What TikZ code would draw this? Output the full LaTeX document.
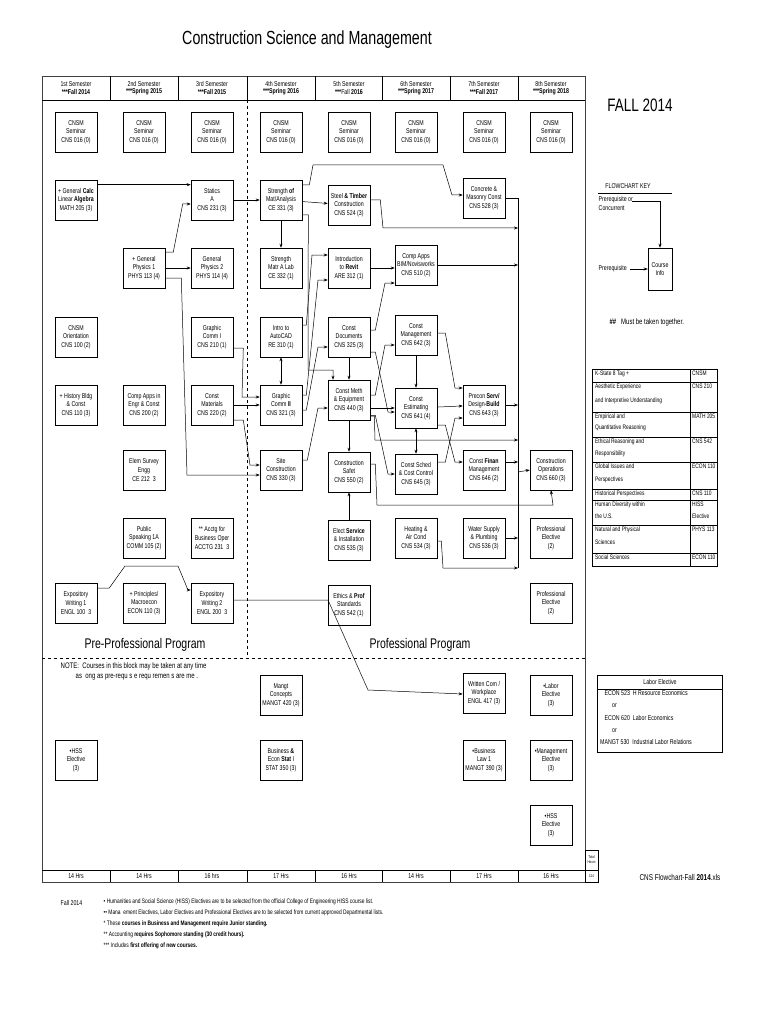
\documentclass[tikz,border=0pt]{standalone}
\usepackage{fontspec}
\setmainfont{Liberation Sans}[FakeStretch=0.75]
\usetikzlibrary{arrows.meta}
\begin{document}
\begin{tikzpicture}[x=1pt,y=-1pt,
 box/.style={draw,line width=0.6pt,minimum width=42pt,minimum height=40pt,align=center,font=\fontsize{7}{8.6}\selectfont,inner sep=0.3pt},
 hd/.style={align=center,font=\fontsize{7}{7.5}\selectfont},
 ar/.style={-{Stealth[length=4pt,width=3pt]},line width=0.5pt},
 da/.style={{Stealth[length=4pt,width=3pt]}-{Stealth[length=4pt,width=3pt]},line width=0.5pt},
 ln/.style={line width=0.5pt},
 sm/.style={font=\fontsize{7}{8.4}\selectfont,anchor=west,inner sep=0.5pt}]
\useasboundingbox (0,0) rectangle (768,1024);
\node[font=\fontsize{19}{22}\selectfont] (title) at (307,40) {Construction Science and Management};
% frame
\draw[line width=0.9pt,black!75] (42,76) rectangle (585,882);
\draw[ln] (42,100) -- (585,100);
\foreach \x in {110,178,247,315,382,450,518} {\draw[ln] (\x,76) -- (\x,100); \draw[ln] (\x,870) -- (\x,882);}
\draw[ln] (42,870) -- (585,870);
\draw[ln] (585,850) rectangle (598,882); \draw[ln] (585,870) -- (598,870);
\node[font=\fontsize{4}{5}\selectfont,align=center,inner sep=0] (tot) at (591.5,860) {Total\\Hours};
\node[font=\fontsize{4}{4.5}\selectfont] (totv) at (591.5,876) {124};
\foreach \x/\t in {76/1st Semester\\\textbf{***Fall 2014},144/2nd Semester\\\textbf{***Spring 2015},212/3rd Semester\\\textbf{***Fall 2015},281/4th Semester\\\textbf{***Spring 2016},349/5th Semester\\\textbf{***}Fall \textbf{2016},416/6th Semester\\\textbf{***Spring 2017},484/7th Semester\\\textbf{***Fall 2017},551/8th Semester\\\textbf{***Spring 2018}} \node[hd] at (\x,88) {\t};
\foreach \x/\t in {76/14 Hrs,144/14 Hrs,212/16 hrs,281/17 Hrs,349/16 Hrs,416/14 Hrs,484/17 Hrs,551/16 Hrs} \node[hd] at (\x,876) {\t};
% dashed dividers
\draw[dashed,ln] (247,100) -- (247,658);
\draw[dashed,ln] (42,658) -- (585,658);
\node[font=\fontsize{14}{16}\selectfont] (pre) at (145,645) {Pre-Professional Program};
\node[font=\fontsize{14}{16}\selectfont] (pro) at (420,645) {Professional Program};
\node[sm,font=\fontsize{8}{9}\selectfont] (note1) at (60,666) {NOTE:\ \ Courses in this block may be taken at any time};
\node[sm,font=\fontsize{8}{9}\selectfont] (note2) at (75,677) {as \ ong as pre-requ s e requ remen s are me .};
% seminars
\foreach \x [count=\i] in {76,144,212,281,349,416,484,551} \node[box] (s\i) at (\x,132) {CNSM\\Seminar\\CNS 016 (0)};
\node[box] (calc) at (76,200) {+ General \textbf{Calc}\\Linear \textbf{Algebra}\\MATH 205 (3)};
\node[box] (statics) at (212,200) {Statics\\A\\CNS 231 (3)};
\node[box] (strength) at (281,200) {Strength \textbf{of}\\Mat/Analysis\\CE 331 (3)};
\node[box] (steel) at (349,205) {Steel \textbf{\& Timber}\\Construction\\CNS 524 (3)};
\node[box] (concrete) at (484,198) {Concrete \&\\Masonry Const\\CNS 528 (3)};
\node[box] (phys1) at (144,268) {+ General\\Physics 1\\PHYS 113 (4)};
\node[box] (phys2) at (212,268) {General\\Physics 2\\PHYS 114 (4)};
\node[box] (lab) at (281,268) {Strength\\Matr A Lab\\CE 332 (1)};
\node[box] (revit) at (349,268) {Introduction\\to \textbf{Revit}\\ARE 312 (1)};
\node[box] (bim) at (416,265) {Comp Apps\\BIM/Novisworks\\CNS 510 (2)};
\node[box] (orient) at (76,337) {CNSM\\Orientation\\CNS 100 (2)};
\node[box] (gc1) at (212,337) {Graphic\\Comm I\\CNS 210 (1)};
\node[box] (autocad) at (281,337) {Intro to\\AutoCAD\\RE 310 (1)};
\node[box] (docs) at (349,337) {Const\\Documents\\CNS 325 (3)};
\node[box] (mgmt) at (416,335) {Const\\Management\\CNS 642 (3)};
\node[box] (hist) at (76,405) {+ History Bldg\\\& Const\\CNS 110 (3)};
\node[box] (capps) at (144,405) {Comp Apps in\\Engr \& Const\\CNS 200 (2)};
\node[box] (mat) at (212,405) {Const\\Materials\\CNS 220 (2)};
\node[box] (gc2) at (281,405) {Graphic\\Comm \textbf{II}\\CNS 321 (3)};
\node[box] (meth) at (349,400) {Const Meth\\\& Equipment\\CNS 440 (3)};
\node[box] (est) at (416,408) {Const\\Estimating\\CNS 641 (4)};
\node[box] (precon) at (484,405) {Precon \textbf{Serv/}\\Design-\textbf{Build}\\CNS 643 (3)};
\node[box] (survey) at (144,470) {Elem Survey\\Engg\\CE 212\ \ 3};
\node[box] (site) at (281,470) {Site\\Construction\\CNS 330 (3)};
\node[box] (safety) at (349,472) {Construction\\Safet\\CNS 550 (2)};
\node[box] (sched) at (416,474) {Const Sched\\\& Cost Control\\CNS 645 (3)};
\node[box] (fin) at (484,470) {Const \textbf{Finan}\\Management\\CNS 646 (2)};
\node[box] (ops) at (551,470) {Construction\\Operations\\CNS 660 (3)};
\node[box] (speak) at (144,538) {Public\\Speaking 1A\\COMM 105 (2)};
\node[box] (acctg) at (212,538) {** Acctg for\\Business Oper\\ACCTG 231\ \ 3};
\node[box] (elect) at (349,540) {Elect \textbf{Service}\\\& Installation\\CNS 535 (3)};
\node[box] (heat) at (416,538) {Heating \&\\Air Cond\\CNS 534 (3)};
\node[box] (water) at (484,538) {Water Supply\\\& Plumbing\\CNS 536 (3)};
\node[box] (pe1) at (551,538) {Professional\\Elective\\(2)};
\node[box] (ew1) at (76,603) {Expository\\Writing 1\\ENGL 100\ \ 3};
\node[box] (macro) at (144,603) {+ Principles/\\Macroecon\\ECON 110 (3)};
\node[box] (ew2) at (212,603) {Expository\\Writing 2\\ENGL 200\ \ 3};
\node[box] (ethics) at (349,605) {Ethics \& \textbf{Prof}\\Standards\\CNS 542 (1)};
\node[box] (pe2) at (551,603) {Professional\\Elective\\(2)};
\node[box] (mangt) at (281,695) {Mangt\\Concepts\\MANGT 420 (3)};
\node[box] (written) at (484,693) {Written Com /\\Workplace\\ENGL 417 (3)};
\node[box] (labor) at (551,695) {•Labor\\Elective\\(3)};
\node[box] (hss1) at (76,760) {•HSS\\Elective\\(3)};
\node[box] (stat) at (281,760) {Business \textbf{\&}\\Econ \textbf{Stat} I\\STAT 350 (3)};
\node[box] (law) at (484,760) {•Business\\Law 1\\MANGT 390 (3)};
\node[box] (melec) at (551,760) {•Management\\Elective\\(3)};
\node[box] (hss2) at (551,825) {•HSS\\Elective\\(3)};
% connectors
\draw[ar] ([yshift=-5]calc.north east) -- ([yshift=-5]statics.north west);
\draw[ar] ([yshift=16]phys1.east) -- ++(8,0) -- ([xshift=-8,yshift=-4]statics.west) -- ([yshift=-4]statics.west);
\draw[ar] (phys1) -- (phys2);
\draw[ar] ([yshift=-10]phys1.east) -- ++(16,0) -- (187,475) -- ([yshift=-5]site.west);
\draw[ar] (statics) -- (strength);
\draw[ar] (strength) -- (lab);
\draw[ar] ([yshift=15]strength.east) -- ++(7,0) -- (313,165) -- (443,165) -- (452,195) -- ([yshift=3]concrete.west);
\draw[ar] (strength) -- (steel);
\draw[ar] ([yshift=-15]strength.east) -- ++(6,0) -- (308,370) -- (333,370) -- ([xshift=-16]meth.north);
\draw[da] (autocad) -- (gc2);
\draw[ar] ([yshift=12]autocad.east) -- ++(4,0) -- (312,255) -- ([yshift=13]revit.west);
\draw[ar] ([yshift=10]gc2.east) -- ++(4,0) -- (318,280) -- ([yshift=-12]revit.west);
\draw[ar] ([yshift=-5]gc2.east) -- ++(4,0) -- (318,347) -- ([yshift=-10]docs.west);
\draw[ar] ([yshift=10]site.east) -- ++(5,0) -- (318,408) -- ([yshift=-8]meth.west);
\draw[ar] ([yshift=-11]gc1.east) -- ++(10,0) -- (242,397) -- ([yshift=8]gc2.west);
\draw[ar] (mat) -- (gc2);
\draw[ar] ([yshift=-15]mat.east) -- ++(10,0) -- (250,465) -- ([yshift=5]site.west);
\draw[ar] ([yshift=7]docs.east) -- ++(5,0) -- (385,283) -- ([yshift=-18]bim.west);
\draw[ar] (revit) -- ([yshift=-3]bim.west);
\draw[ar] (docs) -- (meth);
\draw[ar] ([yshift=-15]docs.east) -- ++(5,0) -- (388,412) -- ([yshift=-4]est.west);
\draw[ar] ([yshift=5]meth.east) -- ++(5,0) -- (385,345) -- ([yshift=-10]mgmt.west);
\draw[ar] ([yshift=-8]meth.east) -- (est.west);
\draw[ar] (mgmt) -- (est);
\draw[ar] ([yshift=2]mgmt.east) -- ++(8,0) -- (455,388) -- ([yshift=17]precon.west);
\draw[ar] (est) -- (precon);
\draw[da] (est) -- (sched);
\draw[ar] ([yshift=-17]est.east) -- ++(8,0) -- (455,462) -- ([yshift=8]fin.west);
\draw[ar] ([yshift=12]sched.east) -- ++(8,0) -- (455,418) -- ([yshift=-13]precon.west);
\draw[ar] (meth) -- (safety);
\draw[ar] ([yshift=-16]meth.east) -- ++(4,0) -- (375,440) -- (518,440);
\draw[ar] ([yshift=5]meth.south east) -- ++(5,0) -- (388,474) -- (sched.west);
\draw[ar] ([yshift=8]safety.east) -- ++(5,0) -- (377,505) -- (553,505) -- (ops.south);
\draw[ar] (elect) -- (safety);
\draw[ar] ([yshift=-3]heat.east) -- ++(4,0) -- (443,568) -- (518,568);
\draw[ar] (water) -- (518,538);
\draw[ar] ([yshift=8]fin.east) -- (518,462);
\draw[ar] (precon) -- (518,405);
\draw[ar] (bim) -- (518,265);
\draw[ar] ([yshift=5]steel.east) -- ++(10,0) -- (383,228) -- (518,228);
\draw[ln] (concrete.east) -- (518,198) -- (518,568);
\draw[ar] (518,472) -- (ops.west);
\draw[ar] ([yshift=15]ew1.east) -- ++(12,0) -- (125,566) -- (178,566) -- (188,590) -- ([yshift=13]ew2.west);
\draw[ar] ([yshift=3]ew2.east) -- (328,600) -- (368,690) -- ([yshift=-1]written.west);
% right side
\node[font=\fontsize{18}{20}\selectfont] (fall) at (640,105) {FALL 2014};
\node[font=\fontsize{7}{8}\selectfont] (key) at (628,186) {FLOWCHART KEY};
\draw[ln] (598,193) -- (672,193);
\node[sm,align=left,anchor=north west] (kp1) at (598,196) {Prerequisite or\\Concurrent};
\node[draw,ln,minimum width=24pt,minimum height=42pt,align=center,font=\fontsize{7}{8.6}\selectfont,inner sep=0.5pt] (cinfo) at (660,269) {Course\\Info};
\draw[ar] (632,201) -- (660,201) -- (cinfo.north);
\node[sm] (kp2) at (598,269) {Prerequisite};
\draw[ar] ([xshift=3]kp2.east) -- (cinfo.west);
\node[font=\fontsize{8}{9}\selectfont,anchor=west] (mt) at (606,322) {\textbf{\#\#}\ \ \ Must be taken together.};
% table
\draw[ln] (592,369) rectangle (717,566);
\draw[ln] (690,369) -- (690,566);
\foreach \y in {382,412,437,462,489,500,525,553} \draw[ln] (592,\y) -- (717,\y);
\tikzset{tb/.style={font=\fontsize{6.5}{11}\selectfont,anchor=north west,align=left,inner sep=0pt}}
\node[tb] at (595,371) {K-State 8 Tag +};
\node[tb] at (692,371) {CNSM};
\node[tb,font=\fontsize{6.5}{14}\selectfont] at (595,384) {Aesthetic Experience\\and Interpretive Understanding};
\node[tb] at (692,384) {CNS 210};
\node[tb] at (595,414) {Empirical and\\Quantitative Reasoning};
\node[tb] at (692,414) {MATH 205};
\node[tb,font=\fontsize{6.5}{12}\selectfont] at (595,439) {Ethical Reasoning and\\Responsibility};
\node[tb] at (692,439) {CNS 542};
\node[tb,font=\fontsize{6.5}{13}\selectfont] at (595,464) {Global Issues and\\Perspectives};
\node[tb] at (692,464) {ECON 110};
\node[tb] at (595,491) {Historical Perspectives};
\node[tb] at (692,491) {CNS 110};
\node[tb,font=\fontsize{6.5}{12}\selectfont] at (595,502) {Human Diversity within\\the U.S.};
\node[tb,font=\fontsize{6.5}{12}\selectfont] at (692,502) {HISS\\Elective};
\node[tb,font=\fontsize{6.5}{13}\selectfont] at (595,527) {Natural and Physical\\Sciences};
\node[tb] at (692,527) {PHYS 113};
\node[tb] at (595,555) {Social Sciences};
\node[tb] at (692,555) {ECON 110};
% labor elective
\draw[ln] (597,675) rectangle (722,752);
\draw[ln] (597,689) -- (722,689);
\node[font=\fontsize{7}{8}\selectfont] (lh) at (660,682) {Labor Elective};
\node[tb,font=\fontsize{7}{12.4}\selectfont] (ll) at (600,690) {\ \ \ ECON 523\ \ H Resource Economics\\\hspace{12pt}or\\\ \ \ ECON 620\ \ Labor Economics\\\hspace{12pt}or\\MANGT 530\ \ Industrial Labor Relations};
\node[font=\fontsize{8.5}{9}\selectfont] (fn) at (680,877) {CNS Flowchart-Fall \textbf{2014}.xls};
% footnotes
\node[sm] (f0) at (60,903) {Fall 2014};
\node[font=\fontsize{6.5}{11}\selectfont,anchor=north west,align=left,inner sep=0.5pt] (f1) at (103,898) {• Humanities and Social Science (HISS) Electives are to be selected from the official College of Engineering HISS course list.\\•• Mana \ ement Electives, Labor Electives and Professional Electives are to be selected from current approved Departmental lists.\\* These \textbf{courses in Business and Management require Junior standing.}\\** Accounting \textbf{requires Sophomore standing (30 credit hours).}\\*** Includes \textbf{first offering of new courses.}};
\end{tikzpicture}
\end{document}
